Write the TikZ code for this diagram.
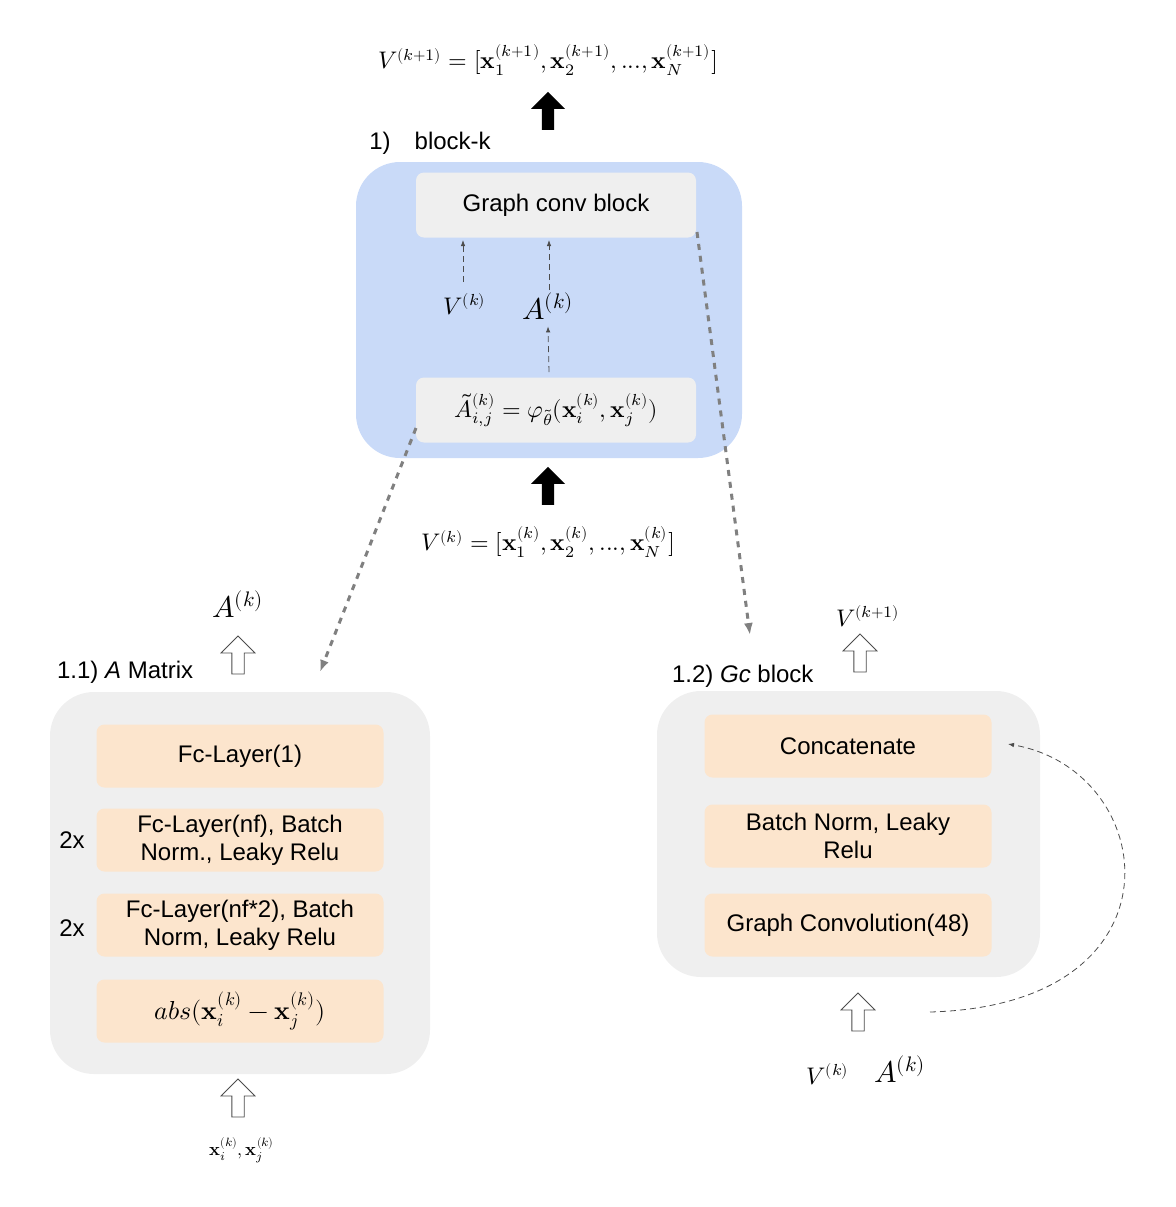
\documentclass[tikz,border=0pt]{standalone}
\usepackage{amsmath,amssymb}
\usepackage{fontspec}
\setmainfont{Liberation Sans}
\usepackage{unicode-math}
\setmathfont{Latin Modern Math}
\usetikzlibrary{shapes.arrows,arrows.meta}
\definecolor{blockblue}{HTML}{C9DAF8}
\definecolor{boxgray}{HTML}{EFEFEF}
\definecolor{layerorange}{HTML}{FCE5CD}
\begin{document}
\begin{tikzpicture}
        [x=0.5pt,y=-0.5pt,font=\fontsize{12}{14}\selectfont]
        \tikzset{panel/.style={rounded corners=18pt, inner sep=0pt},
          layer/.style={fill=layerorange, rounded corners=4pt, minimum width=143.5pt, minimum height=31.5pt, align=center, inner sep=1pt},
          convbox/.style={fill=boxgray, rounded corners=4pt, minimum width=140pt, minimum height=32.5pt},
          hollow/.style={single arrow, draw=black!70, fill=white, rotate=90, minimum height=19pt, minimum width=17pt, single arrow head extend=3pt, inner sep=1.5pt},
          solid arrow/.style={single arrow, fill=black, rotate=90, minimum height=19pt, minimum width=17pt, single arrow head extend=3pt, inner sep=1.5pt},
          small dash/.style={densely dashed, gray!60!black, -{Latex[length=3pt]}},
          big dash/.style={dashed, gray, line width=1.5pt, -{Latex[length=6pt]}}}
        \useasboundingbox (0,0) rectangle (1176,1207);
        %-----block-k
        \fill[blockblue, rounded corners=22pt] (356,162) rectangle (742,458);
        \node[convbox] (gconv) at (556,205) {Graph conv block};
        \node[convbox] (aij) at (556,410) {$\tilde{A}^{(k)}_{i,j}=\varphi_{\tilde{\theta}}(\symbf{x}^{(k)}_i,\symbf{x}^{(k)}_j)$};
        \node at (430,143) {1)\quad block-k};
        \node (vk) at (465,304) {$V^{(k)}$};
        \node[font=\fontsize{15}{17}\selectfont] (ak) at (548,306) {$A^{(k)}$};
        \coordinate (aij top) at (549,372);
        \draw[small dash] (463,282) -- (463,240);
        \draw[small dash] (549,290) -- (549,240);
        \draw[small dash] (aij top) -- (ak.south);
        \node (vout) at (548,60) {$V^{(k+1)}=[\symbf{x}^{(k+1)}_1,\symbf{x}^{(k+1)}_2,...,\symbf{x}^{(k+1)}_N]$};
        \node[solid arrow] (uparrow top) at (548,114) {};
        \node[solid arrow] (uparrow in) at (548,489) {};
        \node (vin) at (548,542) {$V^{(k)}=[\symbf{x}^{(k)}_1,\symbf{x}^{(k)}_2,...,\symbf{x}^{(k)}_N]$};
        %-----A matrix
        \fill[boxgray, rounded corners=22pt] (50,692) rectangle (430,1074);
        \node[anchor=west] (amat) at (50,672) {1.1) \textit{A} Matrix};
        \node[layer] (fc1) at (240,756) {Fc-Layer(1)};
        \node[layer] (fcnf) at (240,840) {Fc-Layer(nf), Batch\\Norm., Leaky Relu};
        \node[layer] (fcnf2) at (240,925) {Fc-Layer(nf*2), Batch\\Norm, Leaky Relu};
        \node[layer,font=\fontsize{13}{15}\selectfont] (absx) at (240,1011) {$abs(\symbf{x}^{(k)}_i-\symbf{x}^{(k)}_j)$};
        \node at (72,840) {2x};
        \node at (72,928) {2x};
        \node[hollow] (aout) at (238,658) {};
        \node[font=\fontsize{15}{17}\selectfont] at (238,604) {$A^{(k)}$};
        \node[hollow] (ain) at (238,1101) {};
        \node[font=\fontsize{9}{11}\selectfont] at (242,1150) {$\symbf{x}^{(k)}_i,\symbf{x}^{(k)}_j$};
        %-----Gc block
        \fill[boxgray, rounded corners=22pt] (657,691) rectangle (1040,977);
        \node[anchor=west] (gcb) at (665,676) {1.2) \textit{Gc} block};
        \node[layer] (concat) at (848,746) {Concatenate};
        \node[layer] (bnorm) at (848,836) {Batch Norm, Leaky\\Relu};
        \node[layer] (gconv48) at (848,925) {Graph Convolution(48)};
        \node[hollow] (gout) at (860,656) {};
        \node at (868,616) {$V^{(k+1)}$};
        \node[hollow] (gin) at (858,1015) {};
        \node at (828,1074) {$V^{(k)}$};
        \node[font=\fontsize{15}{17}\selectfont] at (900,1069) {$A^{(k)}$};
        \coordinate (adj in) at (930,1012);
        \draw[small dash] (adj in) .. controls (1190,1005) and (1160,770) .. (1008,744);
        %-----links
        \draw[big dash] (416,428) -- (320,672);
        \draw[big dash] (697,232) -- (750,635);
\end{tikzpicture}
\end{document}
